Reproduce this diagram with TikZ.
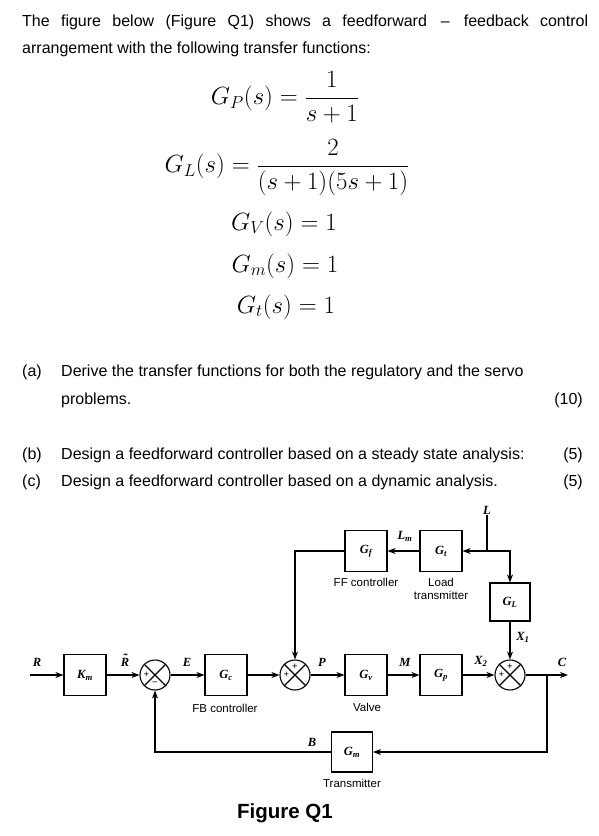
\documentclass[tikz,border=0pt]{standalone}
\usepackage{amsmath}
\usepackage[no-math]{fontspec}
\setmainfont{Liberation Sans}
\newfontfamily\lblfont{Liberation Serif}
\usetikzlibrary{arrows.meta}

\begin{document}
\begin{tikzpicture}[x=1pt,y=-1pt,
  blk/.style={draw,line width=1.1pt,minimum width=42pt,minimum height=41pt,inner sep=0pt,
    font=\lblfont\bfseries\itshape\fontsize{12.5}{13}\selectfont},
  sumj/.style={draw,circle,line width=1.1pt,minimum size=30pt,inner sep=0pt},
  sgn/.style={font=\fontsize{9.5}{9}\selectfont,inner sep=0pt},
  sig/.style={font=\lblfont\bfseries\itshape\fontsize{12.5}{13}\selectfont,inner sep=1pt},
  tag/.style={font=\fontsize{11.5}{13.5}\selectfont,inner sep=0pt},
  wire/.style={line width=1.1pt},
  flow/.style={wire,-{Stealth[length=8pt,width=6pt,inset=2.5pt]}},
  body/.style={anchor=base west,font=\fontsize{16}{18}\selectfont,inner sep=0pt},
  points/.style={anchor=base east,font=\fontsize{16}{18}\selectfont,inner sep=0pt},
  eqn/.style={anchor=base,font=\fontsize{26}{30}\selectfont,inner sep=0pt}]
  \useasboundingbox (0,0) rectangle (599,836);
  %
  \node (intro1) [body] at (22,26) {\makebox[566pt][s]{The figure below (Figure Q1) shows a feedforward \,--\, feedback control}};
  \node (intro2) [body] at (22,53) {arrangement with the following transfer functions:};
  %
  \node (eqgp) [eqn] at (285,104.5) {$G_P(s) = \dfrac{1}{s+1}$};
  \node (eqgl) [eqn] at (287,172.5) {$G_L(s) = \dfrac{2}{(s+1)(5s+1)}$};
  \node (eqgv) [eqn] at (284,230) {$G_V(s) = 1$};
  \node (eqgm) [eqn] at (285,272) {$G_m(s) = 1$};
  \node (eqgt) [eqn] at (286,313) {$G_t(s) = 1$};
  %
  \node (qa) [body] at (22,376) {(a)};
  \node (qatext) [body] at (61,376) {Derive the transfer functions for both the regulatory and the servo};
  \node (qatext2) [body] at (61,404) {problems.};
  \node (qapts) [points] at (583,404) {(10)};
  \node (qb) [body] at (22,459) {(b)};
  \node (qbtext) [body] at (61,459) {Design a feedforward controller based on a steady state analysis:};
  \node (qbpts) [points] at (583,459) {(5)};
  \node (qc) [body] at (22,486) {(c)};
  \node (qctext) [body] at (61,486) {Design a feedforward controller based on a dynamic analysis.};
  \node (qcpts) [points] at (583,486) {(5)};
  %
  % blocks
  \node (km) [blk] at (85,675) {K\textsubscript{m}};
  \node (gc) [blk] at (226,675) {G\textsubscript{c}};
  \node (gv) [blk] at (366,675) {G\textsubscript{v}};
  \node (gp) [blk] at (441,675) {G\textsubscript{p}};
  \node (gf) [blk] at (366,551) {G\textsubscript{f}};
  \node (gt) [blk] at (441,551) {G\textsubscript{t}};
  \node (gl) [blk,minimum width=40pt,minimum height=38pt] at (510,602) {G\textsubscript{L}};
  \node (gm) [blk,minimum width=41pt,minimum height=40pt] at (352,752) {G\textsubscript{m}};
  %
  % summing junctions
  \node (s1) [sumj] at (155,675) {};
  \node (s2) [sumj] at (295,675) {};
  \node (s3) [sumj] at (510,675) {};
  \foreach \s in {s1,s2,s3} {
    \draw[wire] (\s.north east) -- (\s.south west);
    \draw[wire] (\s.north west) -- (\s.south east);
  }
  \node (s1l) [sgn] at ([xshift=-8.5pt]s1.center) {+};
  \node (s1b) [sgn] at ([yshift=-8.5pt]s1.center) {\symbol{"2212}};
  \node (s2t) [sgn] at ([yshift=8.5pt]s2.center) {+};
  \node (s2l) [sgn] at ([xshift=-8.5pt]s2.center) {+};
  \node (s3t) [sgn] at ([yshift=8.5pt]s3.center) {+};
  \node (s3l) [sgn] at ([xshift=-8.5pt]s3.center) {+};
  %
  % signals
  \node (rlbl) [sig] at (37,662) {R};
  \node (rtlbl) [sig,align=center,anchor=south] at (125,668) {\symbol{"02DC}\\[-9pt]R};
  \node (elbl) [sig] at (187,662) {E};
  \node (plbl) [sig] at (322,662) {P};
  \node (mlbl) [sig] at (405,662) {M};
  \node (x2lbl) [sig] at (481,661) {X\textsubscript{2}};
  \node (x1lbl) [sig] at (523,637) {X\textsubscript{1}};
  \node (clbl) [sig] at (562,662) {C};
  \node (llbl) [sig] at (487,510) {L};
  \node (lmlbl) [sig] at (405,536) {L\textsubscript{m}};
  \node (blbl) [sig] at (312,742) {B};
  %
  \node (gftag) [tag] at (366,582) {FF controller};
  \node (gttag) [tag,align=center] at (441,589) {Load\\transmitter};
  \node (gctag) [tag] at (225,708) {FB controller};
  \node (gvtag) [tag] at (367,707) {Valve};
  \node (gmtag) [tag] at (352,783) {Transmitter};
  %
  \coordinate (rin) at (30,675);
  \coordinate (cout) at (568,675);
  \coordinate (jl) at (487,551);
  \coordinate (jc) at (547,675);
  %
  \draw[flow] (rin) -- (km);
  \draw[flow] (km) -- (s1);
  \draw[flow] (s1) -- (gc);
  \draw[flow] (gc) -- (s2);
  \draw[flow] (s2) -- (gv);
  \draw[flow] (gv) -- (gp);
  \draw[flow] (gp) -- (s3);
  \draw[flow] (s3) -- (cout);
  %
  \draw[wire] (llbl) -- (jl);
  \draw[flow] (jl) -- (gt);
  \draw[flow] (gt) -- (gf);
  \draw[flow] (gf.west) -| (s2.north);
  \draw[flow] (jl) -| (gl.north);
  \draw[flow] (gl) -- (s3);
  %
  \draw[flow] (jc) |- (gm.east);
  \draw[flow] (gm.west) -| (s1.south);
  %
  \node (figq) [font=\bfseries\fontsize{20.5}{24}\selectfont] at (285,813) {Figure Q1};
\end{tikzpicture}
\end{document}
